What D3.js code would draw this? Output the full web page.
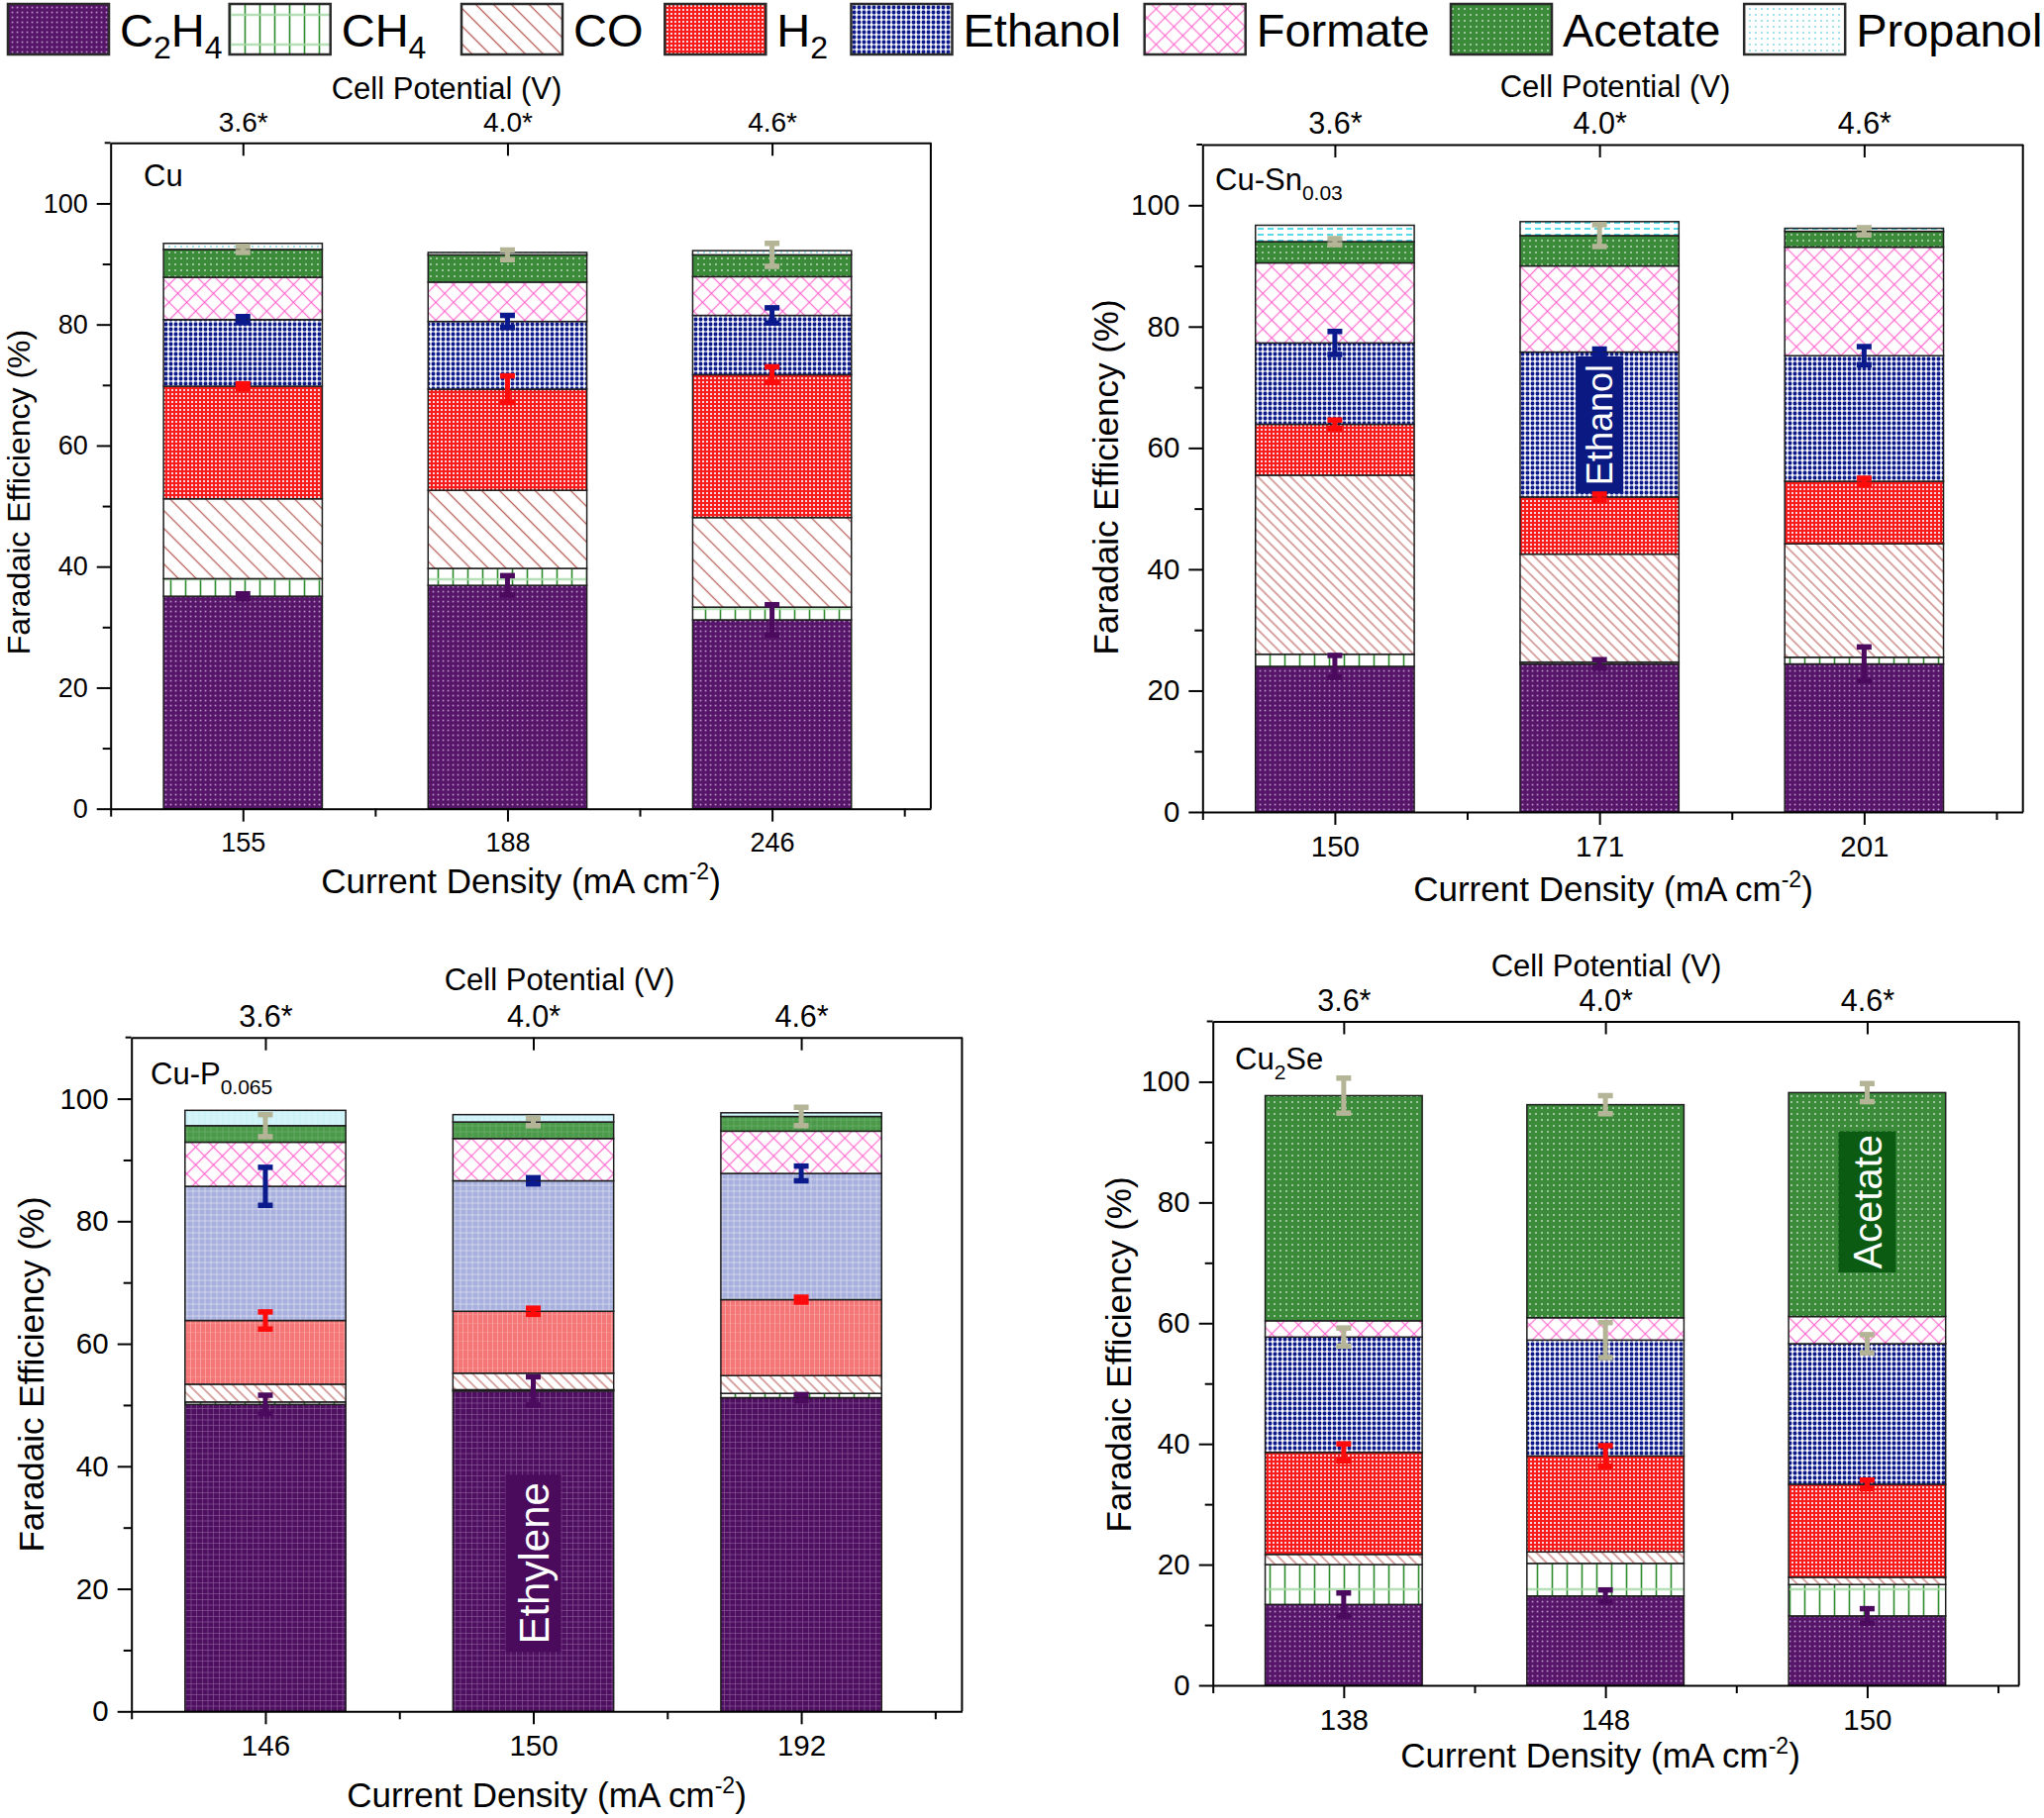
<!DOCTYPE html>
<html><head><meta charset="utf-8">
<script src="https://cdn.jsdelivr.net/npm/d3@7"></script>
<style>
html,body{margin:0;padding:0;background:#fff;}
svg text{font-family:"Liberation Sans", Arial, sans-serif;}
</style></head><body>
<svg id="chart" width="2064" height="1836"></svg>
<script>
// ---------------- DATA ----------------
const seriesKeys = ["C2H4","CH4","CO","H2","Ethanol","Formate","Acetate","Propanol"];
const currentDensity = [["155","188","246"],["150","171","201"],["146","150","192"],["138","148","150"]];
const cellPotential = ["3.6*","4.0*","4.6*"];
const yTickValues = [0,20,40,60,80,100];
const yMinorValues = [10,30,50,70,90];

// Faradaic efficiency of each product (segment size, %): [panel][bar]
const feC2H4    = [[35.1,36.9,31.2],[24.0,24.4,24.4],[50.1,52.3,51.2],[13.4,14.8,11.5]];
const feCH4     = [[2.9,2.8,2.1],[2.0,0.3,1.1],[0.4,0.2,0.7],[6.6,5.4,5.2]];
const feCO      = [[13.2,12.9,14.8],[29.5,17.8,18.7],[2.9,2.7,2.9],[1.7,1.9,1.2]];
const feH2      = [[18.6,16.7,23.6],[8.4,9.4,10.3],[10.4,10.1,12.4],[16.9,15.9,15.4]];
const feEthanol = [[11.0,11.2,9.8],[13.4,23.9,20.7],[21.9,21.3,20.6],[19.1,19.2,23.3]];
const feFormate = [[7.0,6.5,6.4],[13.2,14.2,17.9],[7.2,6.9,6.9],[2.7,3.7,4.5]];
const feAcetate = [[4.6,4.5,3.6],[3.5,5.0,2.6],[2.7,2.7,2.4],[37.3,35.3,37.1]];
const fePropanol= [[1.0,0.4,0.7],[2.7,2.3,0.5],[2.5,1.2,0.6],[0,0,0]];

// error bars (half range, %)
const errC2H4    = [[0.4,1.6,2.5],[1.8,0.7,2.8],[1.5,2.3,0.5],[1.9,1.0,1.2]];
const errH2      = [[0.4,2.2,1.3],[0.7,0.5,0.5],[1.4,0.5,0.4],[1.4,1.7,0.7]];
const errEthanol = [[0.5,1.0,1.25],[1.9,0.5,1.5],[3.1,0.5,1.2],[1.5,2.9,1.5]];
const errAcetate = [[0.5,0.8,1.9],[0.5,1.8,0.6],[1.8,0.6,1.5],[2.9,1.5,1.5]];

// in-bar annotation labels
const boxLabels = [
  {panel:1, pos:2, text:"Ethanol",  lo:52.5, hi:75.1},
  {panel:2, pos:2, text:"Ethylene", lo:9.7,  hi:38.6},
  {panel:3, pos:3, text:"Acetate",  lo:68.4, hi:91.8}
];

const panelLabels = [
  [["Cu",0]],
  [["Cu-Sn",0],["0.03",1]],
  [["Cu-P",0],["0.065",1]],
  [["Cu",0],["2",1],["Se",0]]
];

const legendLabels = [
  [["C",0],["2",1],["H",0],["4",1]],
  [["CH",0],["4",1]],
  [["CO",0]],
  [["H",0],["2",1]],
  [["Ethanol",0]],
  [["Formate",0]],
  [["Acetate",0]],
  [["Propanol",0]]
];

// ---------------- LAYOUT / STYLE ----------------
const layout = [
  {left:111.7, right:939.9, top:144.3, bottom:816.7, xMax:3.6, tickFs:27, ytX:30, ytY:497, ytFs:32, xtX:526, xtDy:85, ctX:451, ctDy:44, labX:145, labY:188,
   pats:["c2h4A","ch4A","coWide","h2A","ethA","formA","acA","propA"], ethErr:"#0a1a8c"},
  {left:1214.3, right:2042.7, top:146, bottom:820, xMax:3.6, tickFs:29.5, ytX:1129, ytY:482, ytFs:35, xtX:1629, xtDy:90, ctX:1631, ctDy:48, labX:1227, labY:192,
   pats:["c2h4A","ch4A","coNarrow","h2A","ethA","formA","acA","propDash"], ethErr:"#0a1a8c"},
  {left:132.7, right:971.4, top:1047.7, bottom:1728.3, xMax:3.6, tickFs:29.5, ytX:44, ytY:1388, ytFs:35, xtX:552, xtDy:97, ctX:565, ctDy:48, labX:152, labY:1095,
   pats:["c2h4B","ch4A","coNarrow","h2B","ethB","formA","acB","propB"], ethErr:"#0a1a8c"},
  {left:1224.7, right:2038.7, top:1031.5, bottom:1702, xMax:3.58, tickFs:29.5, ytX:1142, ytY:1368, ytFs:35, xtX:1616, xtDy:83, ctX:1622, ctDy:46, labX:1247, labY:1080,
   pats:["c2h4A","ch4A","coNarrow","h2A","ethA","formA","acA","propA"], ethErr:"#b4b496"}
];
const boxStyle = [{w:48, fill:"#0b1a82", fs:36},{w:56, fill:"#4a0b5c", fs:42},{w:58, fill:"#0b5c12", fs:40}];
const legendX = [8, 231.7, 466, 671.3, 859.5, 1155.7, 1465, 1761.2];
const legendPats = ["c2h4A","ch4A","coWide","h2A","ethA","formA","acA","propA"];

const svg = d3.select("#chart");
svg.append("rect").attr("width",2064).attr("height",1836).attr("fill","#fff");
const defs = svg.append("defs");
function makePattern(id, w, h, bg, draw, transform) {
  const p = defs.append("pattern").attr("id", id).attr("patternUnits","userSpaceOnUse")
    .attr("width", w).attr("height", h);
  if (transform) p.attr("patternTransform", transform);
  if (bg) p.append("rect").attr("width", w).attr("height", h).attr("fill", bg);
  if (draw) draw(p);
}
function ln(p, x1, y1, x2, y2, c, sw, op) {
  p.append("line").attr("x1",x1).attr("y1",y1).attr("x2",x2).attr("y2",y2)
   .attr("stroke",c).attr("stroke-width",sw).attr("opacity", op == null ? 1 : op);
}
// style A
makePattern("c2h4A", 5, 5, "#571569", p => p.append("rect").attr("x",1.7).attr("y",1.7).attr("width",1.7).attr("height",1.7).attr("fill","#b994c7"));
makePattern("ch4A", 15, 30, "#fff", p => { ln(p,7.5,0,7.5,30,"#2e8b2e",1.6); ln(p,0,15,15,15,"#a6d8a6",2.5,0.8); });
makePattern("coWide", 12.7, 12.7, "#fff", p => ln(p,6.35,0,6.35,12.7,"#b8615c",1.3), "rotate(-45)");
makePattern("coNarrow", 7.8, 7.8, "#fff", p => ln(p,3.9,0,3.9,7.8,"#bf6a66",1.2), "rotate(-45)");
makePattern("h2A", 4, 4, "#f41c1c", p => p.append("rect").attr("x",1).attr("y",1).attr("width",2).attr("height",2).attr("fill","#fff").attr("opacity",0.8));
makePattern("ethA", 5, 5, "#fff", p => p.append("rect").attr("x",0.6).attr("y",0.6).attr("width",3.8).attr("height",3.8).attr("rx",1.3).attr("fill","#0c1a8a"));
makePattern("formA", 12.7, 12.7, "#fff", p => { ln(p,6.35,0,6.35,12.7,"#ff5ccb",1.3,0.85); ln(p,0,6.35,12.7,6.35,"#ff5ccb",1.3,0.85); }, "rotate(45)");
makePattern("acA", 6, 6, "#3b8b3b", p => p.append("rect").attr("x",2.2).attr("y",2.2).attr("width",1.6).attr("height",1.6).attr("fill","#eef6ee").attr("opacity",0.85));
makePattern("propA", 6, 6, "#fff", p => p.append("circle").attr("cx",3).attr("cy",3).attr("r",1.1).attr("fill","#8fdde8"));
makePattern("propDash", 10, 6, "#fff", p => ln(p,0,3,6,3,"#2ad2e2",1.6));
// style B (mesh)
makePattern("c2h4B", 17, 17, "#4f0f60", p => { [0.5,6,11.5].forEach(v => { ln(p,v,0,v,17,"#8a5a99",0.9,0.7); ln(p,0,v,17,v,"#8a5a99",0.9,0.7); }); });
makePattern("h2B", 5, 9, "#f47676", p => { ln(p,2.5,0,2.5,9,"#f9a8a8",1,0.8); ln(p,0,4.5,5,4.5,"#f9a8a8",0.8,0.5); });
makePattern("ethB", 6, 6, "#a8b1dd", p => { ln(p,3,0,3,6,"#fff",0.9,0.45); ln(p,0,3,6,3,"#fff",0.9,0.45); });
makePattern("acB", 6, 6, "#4a9a4a", p => { ln(p,3,0,3,6,"#74b474",0.9,0.6); ln(p,0,3,6,3,"#74b474",0.9,0.6); });
makePattern("propB", 6, 6, "#d3f5fa", p => { ln(p,3,0,3,6,"#b4e8f0",0.8,0.6); });

const feAll = [feC2H4, feCH4, feCO, feH2, feEthanol, feFormate, feAcetate, fePropanol];
const FONT = '"Liberation Sans", Arial, sans-serif';

function richText(sel, parts, fs, subFs, subDy) {
  let prevSub = 0;
  parts.forEach(([t, sub]) => {
    const ts = sel.append("tspan").text(t).attr("font-size", sub ? subFs : fs);
    const dy = (sub ? subDy : 0) - (prevSub ? subDy : 0);
    if (dy) ts.attr("dy", dy);
    prevSub = sub;
  });
}

layout.forEach((L, p) => {
  const x = d3.scaleLinear().domain([0.5, L.xMax]).range([L.left, L.right]);
  const y = d3.scaleLinear().domain([0, 110]).range([L.bottom, L.top]);
  const g = svg.append("g");
  const rows = [0,1,2].map(j => {
    const r = {pos: j + 1};
    seriesKeys.forEach((k, si) => r[k] = feAll[si][p][j]);
    return r;
  });
  const stacked = d3.stack().keys(seriesKeys)(rows);
  const bw = x(1.6) - x(1.0);

  stacked.forEach((layer, si) => {
    g.append("g").selectAll("rect").data(layer.filter(d => d[1] - d[0] > 0)).join("rect")
      .attr("x", d => x(d.data.pos) - bw / 2).attr("width", bw)
      .attr("y", d => y(d[1])).attr("height", d => y(d[0]) - y(d[1]))
      .attr("fill", `url(#${L.pats[si]})`)
      .attr("stroke", "#1e1e1e").attr("stroke-width", 1.5);
  });

  // annotation boxes
  boxLabels.filter(b => b.panel === p).forEach(b => {
    const st = boxStyle[boxLabels.indexOf(b)];
    const cx = x(b.pos), y0 = y(b.hi), y1 = y(b.lo);
    g.append("rect").attr("x", cx - st.w / 2).attr("width", st.w).attr("y", y0).attr("height", y1 - y0).attr("fill", st.fill);
    g.append("text").attr("transform", `translate(${cx},${(y0 + y1) / 2}) rotate(-90)`)
      .attr("text-anchor", "middle").attr("dy", "0.36em").attr("font-size", st.fs).attr("fill", "#fff").text(b.text);
  });

  // error bars
  const errSets = [
    {errs: errC2H4, layer: 0, color: "#4b0a5e"},
    {errs: errH2, layer: 3, color: "#ff0a0a"},
    {errs: errEthanol, layer: 4, color: L.ethErr},
    {errs: errAcetate, layer: 6, color: "#b4b496"}
  ];
  errSets.forEach(es => {
    const data = [0,1,2].map(j => ({pos: j + 1, c: stacked[es.layer][j][1], e: es.errs[p][j]}));
    const eg = g.append("g").attr("stroke", es.color);
    eg.selectAll("line.v").data(data).join("line").attr("class","v")
      .attr("x1", d => x(d.pos)).attr("x2", d => x(d.pos))
      .attr("y1", d => y(d.c - d.e)).attr("y2", d => y(d.c + d.e)).attr("stroke-width", 5);
    [-1, 1].forEach(sgn => {
      eg.selectAll(null).data(data).join("line")
        .attr("x1", d => x(d.pos) - 7.5).attr("x2", d => x(d.pos) + 7.5)
        .attr("y1", d => y(d.c + sgn * d.e)).attr("y2", d => y(d.c + sgn * d.e)).attr("stroke-width", 5.5);
    });
  });

  // axes
  const ax = g.append("g").attr("font-family", FONT);
  ax.append("g").attr("transform", `translate(${L.left},0)`)
    .call(d3.axisLeft(y).tickValues(yTickValues).tickSize(14).tickPadding(9).tickSizeOuter(0))
    .call(s => s.selectAll("text").attr("font-size", L.tickFs));
  ax.append("g").attr("transform", `translate(${L.left},0)`)
    .call(d3.axisLeft(y).tickValues(yMinorValues).tickSize(8).tickFormat(""))
    .call(s => s.select(".domain").remove());
  ax.append("g").attr("transform", `translate(0,${L.bottom})`)
    .call(d3.axisBottom(x).tickValues([1,2,3]).tickFormat((d, i) => currentDensity[p][i]).tickSize(13).tickPadding(11).tickSizeOuter(0))
    .call(s => s.selectAll("text").attr("font-size", L.tickFs));
  ax.append("g").attr("transform", `translate(0,${L.bottom})`)
    .call(d3.axisBottom(x).tickValues([0.5,1.5,2.5,3.5]).tickSize(8).tickFormat(""))
    .call(s => s.select(".domain").remove());
  ax.append("g").attr("transform", `translate(0,${L.top})`)
    .call(d3.axisTop(x).tickValues([1,2,3]).tickFormat((d, i) => cellPotential[i]).tickSizeInner(-13).tickSizeOuter(0).tickPadding(11))
    .call(s => s.selectAll("text").attr("font-size", L.tickFs + 1));
  ax.append("line").attr("x1", L.left - 6).attr("x2", L.left).attr("y1", L.top).attr("y2", L.top);
  ax.append("line").attr("x1", L.right).attr("x2", L.right).attr("y1", L.top).attr("y2", L.bottom);
  ax.selectAll(".domain, .tick line, line").attr("stroke", "#000").attr("stroke-width", 2);
  ax.selectAll("text").attr("fill", "#000");

  // titles
  g.append("text").attr("transform", `translate(${L.ytX},${L.ytY}) rotate(-90)`)
    .attr("text-anchor", "middle").attr("font-size", L.ytFs).text("Faradaic Efficiency (%)");
  const xt = g.append("text").attr("x", L.xtX).attr("y", L.bottom + L.xtDy).attr("text-anchor", "middle").attr("font-size", 35);
  xt.append("tspan").text("Current Density (mA cm");
  xt.append("tspan").text("-2").attr("font-size", 23).attr("dy", -14);
  xt.append("tspan").text(")").attr("dy", 14);
  g.append("text").attr("x", L.ctX).attr("y", L.top - L.ctDy).attr("text-anchor", "middle").attr("font-size", 31).text("Cell Potential (V)");
  const lab = g.append("text").attr("x", L.labX).attr("y", L.labY).attr("font-size", 31);
  richText(lab, panelLabels[p], 31, 21, 10);
});

// legend
const lg = svg.append("g");
legendLabels.forEach((parts, i) => {
  lg.append("rect").attr("x", legendX[i]).attr("y", 4).attr("width", 102).attr("height", 51)
    .attr("fill", `url(#${legendPats[i]})`).attr("stroke", "#2a2a2a").attr("stroke-width", 2.5);
  const t = lg.append("text").attr("x", legendX[i] + 113).attr("y", 47).attr("font-size", 47);
  richText(t, parts, 47, 32, 12);
});
</script>
</body></html>
